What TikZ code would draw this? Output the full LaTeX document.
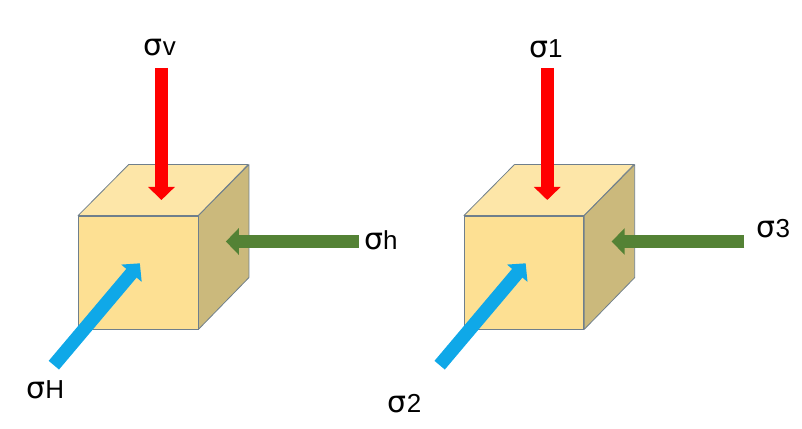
\documentclass[tikz,border=0pt]{standalone}
\usepackage{fontspec}
\setmainfont{Liberation Sans}
\newfontfamily\sigmafont[Scale=1.15]{DejaVu Sans}
\usepackage{tikz}
\usetikzlibrary{arrows.meta, calc, positioning}
\usepackage{xcolor}
\definecolor{FrontFace}{HTML}{FDE093}
\definecolor{TopFace}{HTML}{FDE6A8}
\definecolor{SideFace}{HTML}{CBB97C}
\definecolor{CubeEdge}{HTML}{6F7F8C}
\definecolor{StressRed}{HTML}{FF0000}
\definecolor{StressGreen}{HTML}{548235}
\definecolor{StressBlue}{HTML}{0FA8E8}
\newcommand{\stress}{{\sigmafont σ}}
\tikzset{%
  front_face/.style={%
    rectangle,%
    draw=CubeEdge,%
    fill=FrontFace,%
    line width=0.8pt,%
    inner sep=0pt,%
    minimum width=119.5pt,%
    minimum height=113pt,%
  },
  cube_face/.style={%
    draw=CubeEdge,%
    line width=0.8pt,%
    line join=round,%
  },
  stress_arrow/.style={%
    line width=13.5pt,%
    -{Triangle[length=13pt, width=26pt]},%
  },
  stress_label/.style={%
    inner sep=0pt,%
    text height=16pt,%
    text depth=0pt,%
    font={\fontsize{26}{30}\selectfont},%
  },
}
\begin{document}
\begin{tikzpicture}[x=1pt, y=1pt]

    \useasboundingbox (0, 0) rectangle (802, 428);

    \node [front_face] (FrontA) at (138.25, 155.5) {};
    \node [front_face, right = 265.5pt of FrontA] (FrontB) {};

    \foreach \cube in {FrontA, FrontB} {
      \draw [cube_face, fill=TopFace]
        (\cube.north west)
        --
        ++(50.5, 51)
        --
        ++(119.5, 0)
        --
        (\cube.north east)
        --
        cycle;
      \draw [cube_face, fill=SideFace]
        (\cube.north east)
        --
        ++(50.5, 51)
        --
        ++(0, -113)
        --
        (\cube.south east)
        --
        cycle;
      \coordinate (RedTail\cube) at ($(\cube.center) + (23.2, 204.5)$);
      \coordinate (RedTip\cube) at ($(\cube.center) + (23.2, 72.5)$);
      \coordinate (GreenTail\cube) at ($(\cube.center) + (220.3, 31)$);
      \coordinate (GreenTip\cube) at ($(\cube.center) + (87.6, 31)$);
      \coordinate (BlueTail\cube) at ($(\cube.center) + (-84.4, -92.7)$);
      \coordinate (BlueTip\cube) at ($(\cube.center) + (1.6, 9.2)$);
      \draw [stress_arrow, StressRed] (RedTail\cube) -- (RedTip\cube);
      \draw [stress_arrow, StressGreen] (GreenTail\cube) -- (GreenTip\cube);
      \draw [stress_arrow, StressBlue] (BlueTail\cube) -- (BlueTip\cube);
    }

    \node [stress_label, above = 12pt of RedTailFrontA, xshift=-1.5pt] (SigmaV) {\stress v};
    \node [stress_label, above right = -8pt and 5.5pt of GreenTailFrontA] (SigmaLowH) {\stress h};
    \node [stress_label, below = 17pt of BlueTailFrontA, xshift=-8.5pt] (SigmaUpH) {\stress H};
    \node [stress_label, above = 10.5pt of RedTailFrontB, xshift=-1.5pt] (SigmaOne) {\stress 1};
    \node [stress_label, above right = 4pt and 12pt of GreenTailFrontB] (SigmaThree) {\stress 3};
    \node [stress_label, below = 31.5pt of BlueTailFrontB, xshift=-35pt] (SigmaTwo) {\stress 2};

  \end{tikzpicture}
\end{document}
